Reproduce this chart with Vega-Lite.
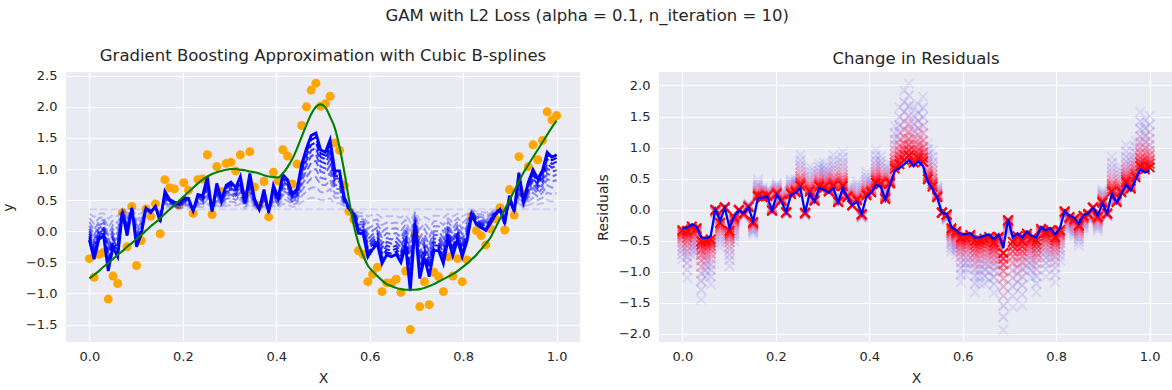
{
"$schema":"https://vega.github.io/schema/vega-lite/v6.json",
"background":"white",
"padding":{"left":1,"right":0,"top":7,"bottom":0},
"title":{"text":"GAM with L2 Loss (alpha = 0.1, n_iteration = 10)","fontSize":16.5,"font":"DejaVu Sans","fontWeight":"normal","color":"#262626","anchor":"middle","offset":24},
"config":{
"font":"DejaVu Sans",
"view":{"fill":"#EAEAF2","stroke":null},
"axis":{"grid":true,"gridColor":"white","gridWidth":1.1,"domain":false,"ticks":false,"tickSize":0,"labelFont":"DejaVu Sans","titleFont":"DejaVu Sans","labelFontSize":13,"labelColor":"#262626","titleFontSize":14,"titleColor":"#262626","titleFontWeight":"normal"},
"axisX":{"labelPadding":8,"titlePadding":8},
"axisY":{"labelPadding":9},
"title":{"font":"DejaVu Sans","fontSize":16.5,"fontWeight":"normal","color":"#262626","offset":5},
"concat":{"spacing":16}
},
"datasets":{"d":[
{"x":0,"y":-0.44,"g":-0.76,"p0":0.355,"p1":0.28,"p2":0.21,"p3":0.15,"p4":0.09,"p5":0.04,"p6":0,"p7":-0.04,"p8":-0.08,"p9":-0.11,"p10":-0.14,"r0":-0.8,"r1":-0.72,"r2":-0.65,"r3":-0.59,"r4":-0.53,"r5":-0.48,"r6":-0.44,"r7":-0.4,"r8":-0.36,"r9":-0.33,"r10":-0.3},
{"x":0.0101,"y":-0.74,"g":-0.7,"p0":0.355,"p1":0.23,"p2":0.12,"p3":0.02,"p4":-0.07,"p5":-0.15,"p6":-0.22,"p7":-0.29,"p8":-0.35,"p9":-0.4,"p10":-0.45,"r0":-1.1,"r1":-0.97,"r2":-0.86,"r3":-0.76,"r4":-0.67,"r5":-0.59,"r6":-0.52,"r7":-0.45,"r8":-0.39,"r9":-0.34,"r10":-0.29},
{"x":0.0202,"y":-0.37,"g":-0.64,"p0":0.355,"p1":0.28,"p2":0.21,"p3":0.15,"p4":0.1,"p5":0.05,"p6":0.01,"p7":-0.03,"p8":-0.07,"p9":-0.1,"p10":-0.13,"r0":-0.73,"r1":-0.65,"r2":-0.58,"r3":-0.52,"r4":-0.47,"r5":-0.42,"r6":-0.38,"r7":-0.34,"r8":-0.3,"r9":-0.27,"r10":-0.24},
{"x":0.0303,"y":-0.34,"g":-0.57,"p0":0.355,"p1":0.29,"p2":0.23,"p3":0.18,"p4":0.13,"p5":0.09,"p6":0.05,"p7":0.02,"p8":-0.02,"p9":-0.04,"p10":-0.07,"r0":-0.7,"r1":-0.63,"r2":-0.57,"r3":-0.52,"r4":-0.47,"r5":-0.43,"r6":-0.39,"r7":-0.36,"r8":-0.32,"r9":-0.3,"r10":-0.27},
{"x":0.0404,"y":-1.09,"g":-0.51,"p0":0.355,"p1":0.2,"p2":0.06,"p3":-0.06,"p4":-0.17,"p5":-0.27,"p6":-0.36,"p7":-0.44,"p8":-0.52,"p9":-0.58,"p10":-0.64,"r0":-1.45,"r1":-1.29,"r2":-1.15,"r3":-1.03,"r4":-0.92,"r5":-0.82,"r6":-0.73,"r7":-0.65,"r8":-0.57,"r9":-0.51,"r10":-0.45},
{"x":0.0505,"y":-0.72,"g":-0.45,"p0":0.355,"p1":0.26,"p2":0.18,"p3":0.1,"p4":0.03,"p5":-0.03,"p6":-0.09,"p7":-0.14,"p8":-0.18,"p9":-0.22,"p10":-0.26,"r0":-1.08,"r1":-0.98,"r2":-0.9,"r3":-0.82,"r4":-0.75,"r5":-0.69,"r6":-0.63,"r7":-0.58,"r8":-0.54,"r9":-0.5,"r10":-0.46},
{"x":0.0606,"y":-0.84,"g":-0.38,"p0":0.355,"p1":0.24,"p2":0.13,"p3":0.04,"p4":-0.05,"p5":-0.13,"p6":-0.2,"p7":-0.26,"p8":-0.31,"p9":-0.36,"p10":-0.41,"r0":-1.2,"r1":-1.08,"r2":-0.97,"r3":-0.88,"r4":-0.79,"r5":-0.71,"r6":-0.64,"r7":-0.58,"r8":-0.53,"r9":-0.48,"r10":-0.43},
{"x":0.0707,"y":0.3,"g":-0.32,"p0":0.355,"p1":0.35,"p2":0.34,"p3":0.33,"p4":0.33,"p5":0.32,"p6":0.32,"p7":0.31,"p8":0.31,"p9":0.3,"p10":0.3,"r0":-0.06,"r1":-0.05,"r2":-0.04,"r3":-0.03,"r4":-0.03,"r5":-0.02,"r6":-0.02,"r7":-0.01,"r8":-0.01,"r9":0,"r10":0},
{"x":0.0808,"y":-0.25,"g":-0.25,"p0":0.355,"p1":0.29,"p2":0.23,"p3":0.18,"p4":0.13,"p5":0.09,"p6":0.05,"p7":0.02,"p8":-0.02,"p9":-0.04,"p10":-0.07,"r0":-0.61,"r1":-0.54,"r2":-0.48,"r3":-0.43,"r4":-0.38,"r5":-0.34,"r6":-0.3,"r7":-0.27,"r8":-0.23,"r9":-0.21,"r10":-0.18},
{"x":0.0909,"y":0.4,"g":-0.19,"p0":0.355,"p1":0.36,"p2":0.36,"p3":0.36,"p4":0.36,"p5":0.36,"p6":0.37,"p7":0.37,"p8":0.37,"p9":0.37,"p10":0.37,"r0":0.05,"r1":0.04,"r2":0.04,"r3":0.04,"r4":0.04,"r5":0.04,"r6":0.03,"r7":0.03,"r8":0.03,"r9":0.03,"r10":0.03},
{"x":0.101,"y":-0.55,"g":-0.12,"p0":0.355,"p1":0.26,"p2":0.18,"p3":0.1,"p4":0.04,"p5":-0.03,"p6":-0.08,"p7":-0.13,"p8":-0.17,"p9":-0.21,"p10":-0.25,"r0":-0.91,"r1":-0.81,"r2":-0.73,"r3":-0.65,"r4":-0.59,"r5":-0.52,"r6":-0.47,"r7":-0.42,"r8":-0.38,"r9":-0.34,"r10":-0.3},
{"x":0.1111,"y":-0.15,"g":-0.06,"p0":0.355,"p1":0.29,"p2":0.24,"p3":0.19,"p4":0.14,"p5":0.1,"p6":0.06,"p7":0.03,"p8":0,"p9":-0.03,"p10":-0.05,"r0":-0.51,"r1":-0.44,"r2":-0.39,"r3":-0.34,"r4":-0.29,"r5":-0.25,"r6":-0.21,"r7":-0.18,"r8":-0.15,"r9":-0.12,"r10":-0.1},
{"x":0.1212,"y":0.36,"g":0.01,"p0":0.355,"p1":0.36,"p2":0.36,"p3":0.36,"p4":0.36,"p5":0.36,"p6":0.37,"p7":0.37,"p8":0.37,"p9":0.37,"p10":0.37,"r0":0.01,"r1":0,"r2":0,"r3":0,"r4":0,"r5":0,"r6":-0.01,"r7":-0.01,"r8":-0.01,"r9":-0.01,"r10":-0.01},
{"x":0.1313,"y":0.24,"g":0.08,"p0":0.355,"p1":0.35,"p2":0.34,"p3":0.33,"p4":0.33,"p5":0.32,"p6":0.32,"p7":0.31,"p8":0.31,"p9":0.3,"p10":0.3,"r0":-0.12,"r1":-0.11,"r2":-0.1,"r3":-0.09,"r4":-0.09,"r5":-0.08,"r6":-0.08,"r7":-0.07,"r8":-0.07,"r9":-0.06,"r10":-0.06},
{"x":0.1414,"y":0.44,"g":0.14,"p0":0.355,"p1":0.36,"p2":0.37,"p3":0.37,"p4":0.38,"p5":0.38,"p6":0.39,"p7":0.39,"p8":0.39,"p9":0.4,"p10":0.4,"r0":0.09,"r1":0.08,"r2":0.07,"r3":0.07,"r4":0.06,"r5":0.06,"r6":0.05,"r7":0.05,"r8":0.05,"r9":0.04,"r10":0.04},
{"x":0.1515,"y":-0.04,"g":0.21,"p0":0.355,"p1":0.32,"p2":0.3,"p3":0.27,"p4":0.25,"p5":0.23,"p6":0.21,"p7":0.19,"p8":0.18,"p9":0.16,"p10":0.15,"r0":-0.4,"r1":-0.36,"r2":-0.34,"r3":-0.31,"r4":-0.29,"r5":-0.27,"r6":-0.25,"r7":-0.23,"r8":-0.22,"r9":-0.2,"r10":-0.19},
{"x":0.1616,"y":0.83,"g":0.28,"p0":0.355,"p1":0.4,"p2":0.44,"p3":0.47,"p4":0.51,"p5":0.53,"p6":0.56,"p7":0.58,"p8":0.6,"p9":0.62,"p10":0.64,"r0":0.48,"r1":0.43,"r2":0.39,"r3":0.36,"r4":0.32,"r5":0.3,"r6":0.27,"r7":0.25,"r8":0.23,"r9":0.21,"r10":0.19},
{"x":0.1717,"y":0.7,"g":0.35,"p0":0.355,"p1":0.38,"p2":0.4,"p3":0.42,"p4":0.44,"p5":0.45,"p6":0.47,"p7":0.48,"p8":0.49,"p9":0.5,"p10":0.51,"r0":0.35,"r1":0.32,"r2":0.3,"r3":0.28,"r4":0.26,"r5":0.25,"r6":0.23,"r7":0.22,"r8":0.21,"r9":0.2,"r10":0.19},
{"x":0.1818,"y":0.68,"g":0.42,"p0":0.355,"p1":0.37,"p2":0.39,"p3":0.4,"p4":0.42,"p5":0.43,"p6":0.44,"p7":0.45,"p8":0.46,"p9":0.46,"p10":0.47,"r0":0.33,"r1":0.31,"r2":0.29,"r3":0.28,"r4":0.26,"r5":0.25,"r6":0.24,"r7":0.23,"r8":0.22,"r9":0.22,"r10":0.21},
{"x":0.1919,"y":0.42,"g":0.49,"p0":0.355,"p1":0.37,"p2":0.38,"p3":0.39,"p4":0.4,"p5":0.41,"p6":0.42,"p7":0.42,"p8":0.43,"p9":0.44,"p10":0.44,"r0":0.07,"r1":0.05,"r2":0.04,"r3":0.03,"r4":0.02,"r5":0.01,"r6":0,"r7":0,"r8":-0.01,"r9":-0.02,"r10":-0.02},
{"x":0.202,"y":0.78,"g":0.56,"p0":0.355,"p1":0.38,"p2":0.41,"p3":0.43,"p4":0.45,"p5":0.47,"p6":0.49,"p7":0.5,"p8":0.52,"p9":0.53,"p10":0.54,"r0":0.43,"r1":0.4,"r2":0.37,"r3":0.35,"r4":0.33,"r5":0.31,"r6":0.29,"r7":0.28,"r8":0.26,"r9":0.25,"r10":0.24},
{"x":0.2121,"y":0.66,"g":0.63,"p0":0.355,"p1":0.38,"p2":0.41,"p3":0.43,"p4":0.45,"p5":0.47,"p6":0.48,"p7":0.5,"p8":0.51,"p9":0.52,"p10":0.53,"r0":0.31,"r1":0.28,"r2":0.25,"r3":0.23,"r4":0.21,"r5":0.19,"r6":0.18,"r7":0.16,"r8":0.15,"r9":0.14,"r10":0.13},
{"x":0.2222,"y":0.29,"g":0.7,"p0":0.355,"p1":0.35,"p2":0.35,"p3":0.35,"p4":0.34,"p5":0.34,"p6":0.34,"p7":0.34,"p8":0.33,"p9":0.33,"p10":0.33,"r0":-0.07,"r1":-0.06,"r2":-0.06,"r3":-0.06,"r4":-0.05,"r5":-0.05,"r6":-0.05,"r7":-0.05,"r8":-0.04,"r9":-0.04,"r10":-0.04},
{"x":0.2323,"y":0.83,"g":0.77,"p0":0.355,"p1":0.39,"p2":0.42,"p3":0.45,"p4":0.48,"p5":0.5,"p6":0.52,"p7":0.54,"p8":0.56,"p9":0.58,"p10":0.59,"r0":0.48,"r1":0.44,"r2":0.41,"r3":0.38,"r4":0.35,"r5":0.33,"r6":0.31,"r7":0.29,"r8":0.27,"r9":0.25,"r10":0.24},
{"x":0.2424,"y":0.84,"g":0.83,"p0":0.355,"p1":0.39,"p2":0.42,"p3":0.44,"p4":0.47,"p5":0.49,"p6":0.51,"p7":0.53,"p8":0.54,"p9":0.56,"p10":0.57,"r0":0.49,"r1":0.45,"r2":0.42,"r3":0.4,"r4":0.37,"r5":0.35,"r6":0.33,"r7":0.31,"r8":0.3,"r9":0.28,"r10":0.27},
{"x":0.2525,"y":1.23,"g":0.88,"p0":0.355,"p1":0.44,"p2":0.51,"p3":0.57,"p4":0.63,"p5":0.69,"p6":0.73,"p7":0.78,"p8":0.81,"p9":0.85,"p10":0.88,"r0":0.88,"r1":0.79,"r2":0.72,"r3":0.66,"r4":0.6,"r5":0.54,"r6":0.5,"r7":0.45,"r8":0.42,"r9":0.38,"r10":0.35},
{"x":0.2626,"y":0.27,"g":0.92,"p0":0.355,"p1":0.35,"p2":0.35,"p3":0.34,"p4":0.34,"p5":0.33,"p6":0.33,"p7":0.33,"p8":0.32,"p9":0.32,"p10":0.32,"r0":-0.09,"r1":-0.08,"r2":-0.08,"r3":-0.07,"r4":-0.07,"r5":-0.06,"r6":-0.06,"r7":-0.06,"r8":-0.05,"r9":-0.05,"r10":-0.05},
{"x":0.2727,"y":1.04,"g":0.95,"p0":0.355,"p1":0.42,"p2":0.48,"p3":0.53,"p4":0.57,"p5":0.62,"p6":0.65,"p7":0.69,"p8":0.72,"p9":0.75,"p10":0.77,"r0":0.69,"r1":0.62,"r2":0.56,"r3":0.51,"r4":0.47,"r5":0.42,"r6":0.39,"r7":0.35,"r8":0.32,"r9":0.29,"r10":0.27},
{"x":0.2828,"y":0.64,"g":0.97,"p0":0.355,"p1":0.38,"p2":0.4,"p3":0.42,"p4":0.44,"p5":0.45,"p6":0.47,"p7":0.48,"p8":0.49,"p9":0.5,"p10":0.51,"r0":0.29,"r1":0.26,"r2":0.24,"r3":0.22,"r4":0.2,"r5":0.19,"r6":0.17,"r7":0.16,"r8":0.15,"r9":0.14,"r10":0.13},
{"x":0.2929,"y":1.09,"g":0.99,"p0":0.355,"p1":0.41,"p2":0.47,"p3":0.52,"p4":0.56,"p5":0.6,"p6":0.63,"p7":0.66,"p8":0.69,"p9":0.72,"p10":0.74,"r0":0.74,"r1":0.68,"r2":0.62,"r3":0.57,"r4":0.53,"r5":0.49,"r6":0.46,"r7":0.43,"r8":0.4,"r9":0.37,"r10":0.35},
{"x":0.303,"y":1.11,"g":1,"p0":0.355,"p1":0.42,"p2":0.48,"p3":0.54,"p4":0.59,"p5":0.63,"p6":0.67,"p7":0.7,"p8":0.74,"p9":0.76,"p10":0.79,"r0":0.76,"r1":0.69,"r2":0.63,"r3":0.57,"r4":0.52,"r5":0.48,"r6":0.44,"r7":0.41,"r8":0.37,"r9":0.35,"r10":0.32},
{"x":0.3131,"y":0.97,"g":1,"p0":0.355,"p1":0.41,"p2":0.46,"p3":0.5,"p4":0.54,"p5":0.57,"p6":0.6,"p7":0.63,"p8":0.66,"p9":0.68,"p10":0.7,"r0":0.62,"r1":0.56,"r2":0.51,"r3":0.47,"r4":0.43,"r5":0.4,"r6":0.37,"r7":0.34,"r8":0.31,"r9":0.29,"r10":0.27},
{"x":0.3232,"y":1.23,"g":0.99,"p0":0.355,"p1":0.44,"p2":0.51,"p3":0.57,"p4":0.63,"p5":0.69,"p6":0.73,"p7":0.78,"p8":0.81,"p9":0.85,"p10":0.88,"r0":0.88,"r1":0.79,"r2":0.72,"r3":0.66,"r4":0.6,"r5":0.54,"r6":0.5,"r7":0.45,"r8":0.42,"r9":0.38,"r10":0.35},
{"x":0.3333,"y":0.59,"g":0.98,"p0":0.355,"p1":0.37,"p2":0.39,"p3":0.41,"p4":0.42,"p5":0.43,"p6":0.45,"p7":0.46,"p8":0.46,"p9":0.47,"p10":0.48,"r0":0.24,"r1":0.22,"r2":0.2,"r3":0.18,"r4":0.17,"r5":0.16,"r6":0.14,"r7":0.13,"r8":0.13,"r9":0.12,"r10":0.11},
{"x":0.3434,"y":1.28,"g":0.96,"p0":0.355,"p1":0.44,"p2":0.52,"p3":0.59,"p4":0.66,"p5":0.72,"p6":0.77,"p7":0.82,"p8":0.86,"p9":0.9,"p10":0.93,"r0":0.93,"r1":0.84,"r2":0.76,"r3":0.69,"r4":0.62,"r5":0.56,"r6":0.51,"r7":0.46,"r8":0.42,"r9":0.38,"r10":0.35},
{"x":0.3535,"y":0.71,"g":0.95,"p0":0.355,"p1":0.38,"p2":0.4,"p3":0.42,"p4":0.44,"p5":0.46,"p6":0.47,"p7":0.49,"p8":0.5,"p9":0.51,"p10":0.52,"r0":0.36,"r1":0.33,"r2":0.31,"r3":0.29,"r4":0.27,"r5":0.25,"r6":0.24,"r7":0.22,"r8":0.21,"r9":0.2,"r10":0.19},
{"x":0.3636,"y":0.42,"g":0.93,"p0":0.355,"p1":0.35,"p2":0.35,"p3":0.35,"p4":0.35,"p5":0.35,"p6":0.35,"p7":0.35,"p8":0.35,"p9":0.35,"p10":0.35,"r0":0.07,"r1":0.07,"r2":0.07,"r3":0.07,"r4":0.07,"r5":0.07,"r6":0.07,"r7":0.07,"r8":0.07,"r9":0.07,"r10":0.07},
{"x":0.3737,"y":0.8,"g":0.9,"p0":0.355,"p1":0.4,"p2":0.45,"p3":0.49,"p4":0.52,"p5":0.55,"p6":0.58,"p7":0.61,"p8":0.63,"p9":0.65,"p10":0.67,"r0":0.45,"r1":0.4,"r2":0.35,"r3":0.31,"r4":0.28,"r5":0.25,"r6":0.22,"r7":0.19,"r8":0.17,"r9":0.15,"r10":0.13},
{"x":0.3838,"y":0.23,"g":0.88,"p0":0.355,"p1":0.35,"p2":0.34,"p3":0.33,"p4":0.33,"p5":0.32,"p6":0.32,"p7":0.31,"p8":0.31,"p9":0.3,"p10":0.3,"r0":-0.13,"r1":-0.12,"r2":-0.11,"r3":-0.1,"r4":-0.1,"r5":-0.09,"r6":-0.09,"r7":-0.08,"r8":-0.08,"r9":-0.07,"r10":-0.07},
{"x":0.3939,"y":0.95,"g":0.87,"p0":0.355,"p1":0.41,"p2":0.47,"p3":0.52,"p4":0.56,"p5":0.6,"p6":0.63,"p7":0.66,"p8":0.69,"p9":0.72,"p10":0.74,"r0":0.6,"r1":0.54,"r2":0.48,"r3":0.43,"r4":0.39,"r5":0.35,"r6":0.32,"r7":0.29,"r8":0.26,"r9":0.23,"r10":0.21},
{"x":0.404,"y":0.81,"g":0.865,"p0":0.355,"p1":0.38,"p2":0.41,"p3":0.43,"p4":0.45,"p5":0.47,"p6":0.49,"p7":0.5,"p8":0.52,"p9":0.53,"p10":0.54,"r0":0.46,"r1":0.43,"r2":0.4,"r3":0.38,"r4":0.36,"r5":0.34,"r6":0.32,"r7":0.31,"r8":0.29,"r9":0.28,"r10":0.27},
{"x":0.4141,"y":1.31,"g":0.93,"p0":0.355,"p1":0.44,"p2":0.52,"p3":0.59,"p4":0.65,"p5":0.7,"p6":0.75,"p7":0.8,"p8":0.84,"p9":0.88,"p10":0.91,"r0":0.96,"r1":0.87,"r2":0.79,"r3":0.72,"r4":0.66,"r5":0.61,"r6":0.56,"r7":0.51,"r8":0.47,"r9":0.43,"r10":0.4},
{"x":0.4242,"y":1.21,"g":1.03,"p0":0.355,"p1":0.43,"p2":0.49,"p3":0.55,"p4":0.61,"p5":0.65,"p6":0.7,"p7":0.74,"p8":0.77,"p9":0.8,"p10":0.83,"r0":0.86,"r1":0.78,"r2":0.72,"r3":0.66,"r4":0.6,"r5":0.56,"r6":0.51,"r7":0.47,"r8":0.44,"r9":0.41,"r10":0.38},
{"x":0.4343,"y":0.76,"g":1.16,"p0":0.355,"p1":0.39,"p2":0.43,"p3":0.46,"p4":0.48,"p5":0.51,"p6":0.53,"p7":0.55,"p8":0.57,"p9":0.59,"p10":0.6,"r0":0.41,"r1":0.37,"r2":0.33,"r3":0.3,"r4":0.28,"r5":0.25,"r6":0.23,"r7":0.21,"r8":0.19,"r9":0.17,"r10":0.16},
{"x":0.4444,"y":1.08,"g":1.33,"p0":0.355,"p1":0.41,"p2":0.45,"p3":0.49,"p4":0.53,"p5":0.56,"p6":0.59,"p7":0.62,"p8":0.64,"p9":0.66,"p10":0.68,"r0":0.73,"r1":0.67,"r2":0.63,"r3":0.59,"r4":0.55,"r5":0.52,"r6":0.49,"r7":0.46,"r8":0.44,"r9":0.42,"r10":0.4},
{"x":0.4545,"y":1.7,"g":1.52,"p0":0.355,"p1":0.47,"p2":0.57,"p3":0.66,"p4":0.74,"p5":0.81,"p6":0.88,"p7":0.94,"p8":0.99,"p9":1.04,"p10":1.08,"r0":1.35,"r1":1.23,"r2":1.13,"r3":1.04,"r4":0.96,"r5":0.89,"r6":0.82,"r7":0.76,"r8":0.71,"r9":0.66,"r10":0.62},
{"x":0.4646,"y":2,"g":1.71,"p0":0.355,"p1":0.51,"p2":0.64,"p3":0.76,"p4":0.87,"p5":0.97,"p6":1.06,"p7":1.14,"p8":1.21,"p9":1.27,"p10":1.33,"r0":1.65,"r1":1.49,"r2":1.36,"r3":1.24,"r4":1.13,"r5":1.03,"r6":0.94,"r7":0.86,"r8":0.79,"r9":0.73,"r10":0.67},
{"x":0.4747,"y":2.27,"g":1.88,"p0":0.355,"p1":0.54,"p2":0.7,"p3":0.85,"p4":0.98,"p5":1.1,"p6":1.21,"p7":1.3,"p8":1.39,"p9":1.47,"p10":1.54,"r0":1.92,"r1":1.73,"r2":1.57,"r3":1.42,"r4":1.29,"r5":1.17,"r6":1.06,"r7":0.97,"r8":0.88,"r9":0.8,"r10":0.73},
{"x":0.4848,"y":2.38,"g":2,"p0":0.355,"p1":0.54,"p2":0.71,"p3":0.87,"p4":1,"p5":1.13,"p6":1.24,"p7":1.34,"p8":1.43,"p9":1.51,"p10":1.58,"r0":2.03,"r1":1.84,"r2":1.67,"r3":1.51,"r4":1.38,"r5":1.25,"r6":1.14,"r7":1.04,"r8":0.95,"r9":0.87,"r10":0.8},
{"x":0.4949,"y":2.01,"g":2.04,"p0":0.355,"p1":0.5,"p2":0.63,"p3":0.75,"p4":0.86,"p5":0.96,"p6":1.04,"p7":1.12,"p8":1.19,"p9":1.25,"p10":1.31,"r0":1.66,"r1":1.51,"r2":1.38,"r3":1.26,"r4":1.15,"r5":1.05,"r6":0.97,"r7":0.89,"r8":0.82,"r9":0.76,"r10":0.7},
{"x":0.5051,"y":2.05,"g":1.99,"p0":0.355,"p1":0.5,"p2":0.62,"p3":0.74,"p4":0.84,"p5":0.93,"p6":1.01,"p7":1.09,"p8":1.16,"p9":1.22,"p10":1.27,"r0":1.7,"r1":1.55,"r2":1.43,"r3":1.31,"r4":1.21,"r5":1.12,"r6":1.04,"r7":0.96,"r8":0.89,"r9":0.83,"r10":0.78},
{"x":0.5152,"y":2.17,"g":1.84,"p0":0.355,"p1":0.53,"p2":0.68,"p3":0.82,"p4":0.94,"p5":1.06,"p6":1.16,"p7":1.25,"p8":1.33,"p9":1.4,"p10":1.47,"r0":1.82,"r1":1.64,"r2":1.49,"r3":1.35,"r4":1.23,"r5":1.11,"r6":1.01,"r7":0.92,"r8":0.84,"r9":0.77,"r10":0.7},
{"x":0.5253,"y":1.42,"g":1.66,"p0":0.355,"p1":0.45,"p2":0.54,"p3":0.61,"p4":0.68,"p5":0.74,"p6":0.8,"p7":0.85,"p8":0.89,"p9":0.93,"p10":0.97,"r0":1.07,"r1":0.97,"r2":0.88,"r3":0.81,"r4":0.74,"r5":0.68,"r6":0.62,"r7":0.57,"r8":0.53,"r9":0.49,"r10":0.45},
{"x":0.5354,"y":1.3,"g":1.35,"p0":0.355,"p1":0.45,"p2":0.54,"p3":0.61,"p4":0.68,"p5":0.74,"p6":0.8,"p7":0.85,"p8":0.89,"p9":0.93,"p10":0.97,"r0":0.95,"r1":0.85,"r2":0.76,"r3":0.69,"r4":0.62,"r5":0.56,"r6":0.5,"r7":0.45,"r8":0.41,"r9":0.37,"r10":0.33},
{"x":0.5455,"y":0.74,"g":0.96,"p0":0.355,"p1":0.39,"p2":0.41,"p3":0.44,"p4":0.46,"p5":0.48,"p6":0.5,"p7":0.51,"p8":0.53,"p9":0.54,"p10":0.55,"r0":0.39,"r1":0.35,"r2":0.33,"r3":0.3,"r4":0.28,"r5":0.26,"r6":0.24,"r7":0.23,"r8":0.21,"r9":0.2,"r10":0.19},
{"x":0.5556,"y":0.32,"g":0.51,"p0":0.355,"p1":0.36,"p2":0.36,"p3":0.36,"p4":0.36,"p5":0.36,"p6":0.37,"p7":0.37,"p8":0.37,"p9":0.37,"p10":0.37,"r0":-0.04,"r1":-0.04,"r2":-0.04,"r3":-0.04,"r4":-0.04,"r5":-0.04,"r6":-0.05,"r7":-0.05,"r8":-0.05,"r9":-0.05,"r10":-0.05},
{"x":0.5657,"y":0.19,"g":0.1,"p0":0.355,"p1":0.34,"p2":0.33,"p3":0.32,"p4":0.31,"p5":0.3,"p6":0.29,"p7":0.28,"p8":0.27,"p9":0.27,"p10":0.26,"r0":-0.17,"r1":-0.15,"r2":-0.14,"r3":-0.13,"r4":-0.12,"r5":-0.11,"r6":-0.1,"r7":-0.09,"r8":-0.08,"r9":-0.08,"r10":-0.07},
{"x":0.5758,"y":-0.31,"g":-0.19,"p0":0.355,"p1":0.3,"p2":0.24,"p3":0.2,"p4":0.15,"p5":0.11,"p6":0.08,"p7":0.05,"p8":0.02,"p9":-0.01,"p10":-0.03,"r0":-0.67,"r1":-0.61,"r2":-0.55,"r3":-0.51,"r4":-0.46,"r5":-0.42,"r6":-0.39,"r7":-0.36,"r8":-0.33,"r9":-0.3,"r10":-0.28},
{"x":0.5859,"y":-0.37,"g":-0.39,"p0":0.355,"p1":0.29,"p2":0.24,"p3":0.19,"p4":0.15,"p5":0.11,"p6":0.07,"p7":0.04,"p8":0.01,"p9":-0.02,"p10":-0.04,"r0":-0.73,"r1":-0.66,"r2":-0.61,"r3":-0.56,"r4":-0.52,"r5":-0.48,"r6":-0.44,"r7":-0.41,"r8":-0.38,"r9":-0.35,"r10":-0.33},
{"x":0.596,"y":-0.81,"g":-0.55,"p0":0.355,"p1":0.24,"p2":0.13,"p3":0.04,"p4":-0.05,"p5":-0.13,"p6":-0.2,"p7":-0.26,"p8":-0.31,"p9":-0.36,"p10":-0.41,"r0":-1.17,"r1":-1.05,"r2":-0.94,"r3":-0.85,"r4":-0.76,"r5":-0.68,"r6":-0.61,"r7":-0.55,"r8":-0.5,"r9":-0.45,"r10":-0.4},
{"x":0.6061,"y":-0.69,"g":-0.64,"p0":0.355,"p1":0.26,"p2":0.17,"p3":0.09,"p4":0.01,"p5":-0.05,"p6":-0.11,"p7":-0.16,"p8":-0.21,"p9":-0.25,"p10":-0.29,"r0":-1.05,"r1":-0.95,"r2":-0.86,"r3":-0.78,"r4":-0.7,"r5":-0.64,"r6":-0.58,"r7":-0.53,"r8":-0.48,"r9":-0.44,"r10":-0.4},
{"x":0.6162,"y":-0.58,"g":-0.72,"p0":0.355,"p1":0.27,"p2":0.19,"p3":0.12,"p4":0.06,"p5":0.01,"p6":-0.04,"p7":-0.09,"p8":-0.13,"p9":-0.17,"p10":-0.2,"r0":-0.94,"r1":-0.85,"r2":-0.77,"r3":-0.7,"r4":-0.64,"r5":-0.59,"r6":-0.54,"r7":-0.49,"r8":-0.45,"r9":-0.41,"r10":-0.38},
{"x":0.6263,"y":-0.97,"g":-0.79,"p0":0.355,"p1":0.22,"p2":0.1,"p3":-0.01,"p4":-0.11,"p5":-0.2,"p6":-0.27,"p7":-0.35,"p8":-0.41,"p9":-0.47,"p10":-0.52,"r0":-1.33,"r1":-1.19,"r2":-1.07,"r3":-0.96,"r4":-0.86,"r5":-0.77,"r6":-0.7,"r7":-0.62,"r8":-0.56,"r9":-0.5,"r10":-0.45},
{"x":0.6364,"y":-0.83,"g":-0.85,"p0":0.355,"p1":0.24,"p2":0.14,"p3":0.05,"p4":-0.03,"p5":-0.11,"p6":-0.17,"p7":-0.23,"p8":-0.29,"p9":-0.34,"p10":-0.38,"r0":-1.19,"r1":-1.07,"r2":-0.97,"r3":-0.88,"r4":-0.8,"r5":-0.72,"r6":-0.66,"r7":-0.6,"r8":-0.54,"r9":-0.49,"r10":-0.45},
{"x":0.6465,"y":-0.83,"g":-0.88,"p0":0.355,"p1":0.24,"p2":0.13,"p3":0.04,"p4":-0.05,"p5":-0.13,"p6":-0.2,"p7":-0.26,"p8":-0.31,"p9":-0.36,"p10":-0.41,"r0":-1.19,"r1":-1.07,"r2":-0.96,"r3":-0.87,"r4":-0.78,"r5":-0.7,"r6":-0.63,"r7":-0.57,"r8":-0.52,"r9":-0.47,"r10":-0.42},
{"x":0.6566,"y":-0.77,"g":-0.91,"p0":0.355,"p1":0.24,"p2":0.14,"p3":0.05,"p4":-0.03,"p5":-0.1,"p6":-0.17,"p7":-0.23,"p8":-0.28,"p9":-0.33,"p10":-0.37,"r0":-1.13,"r1":-1.01,"r2":-0.91,"r3":-0.82,"r4":-0.74,"r5":-0.67,"r6":-0.6,"r7":-0.54,"r8":-0.49,"r9":-0.44,"r10":-0.4},
{"x":0.6667,"y":-0.98,"g":-0.93,"p0":0.355,"p1":0.22,"p2":0.11,"p3":0,"p4":-0.1,"p5":-0.18,"p6":-0.26,"p7":-0.33,"p8":-0.39,"p9":-0.45,"p10":-0.5,"r0":-1.34,"r1":-1.2,"r2":-1.09,"r3":-0.98,"r4":-0.88,"r5":-0.8,"r6":-0.72,"r7":-0.65,"r8":-0.59,"r9":-0.53,"r10":-0.48},
{"x":0.6768,"y":-0.64,"g":-0.94,"p0":0.355,"p1":0.26,"p2":0.18,"p3":0.11,"p4":0.04,"p5":-0.02,"p6":-0.07,"p7":-0.12,"p8":-0.17,"p9":-0.2,"p10":-0.24,"r0":-1,"r1":-0.9,"r2":-0.82,"r3":-0.75,"r4":-0.68,"r5":-0.62,"r6":-0.57,"r7":-0.52,"r8":-0.47,"r9":-0.44,"r10":-0.4},
{"x":0.6869,"y":-1.58,"g":-0.94,"p0":0.355,"p1":0.15,"p2":-0.03,"p3":-0.19,"p4":-0.34,"p5":-0.47,"p6":-0.59,"p7":-0.7,"p8":-0.79,"p9":-0.88,"p10":-0.96,"r0":-1.94,"r1":-1.73,"r2":-1.55,"r3":-1.39,"r4":-1.24,"r5":-1.11,"r6":-0.99,"r7":-0.88,"r8":-0.79,"r9":-0.7,"r10":-0.62},
{"x":0.697,"y":-0.06,"g":-0.94,"p0":0.355,"p1":0.31,"p2":0.28,"p3":0.25,"p4":0.22,"p5":0.19,"p6":0.16,"p7":0.14,"p8":0.12,"p9":0.11,"p10":0.09,"r0":-0.42,"r1":-0.37,"r2":-0.34,"r3":-0.31,"r4":-0.28,"r5":-0.25,"r6":-0.22,"r7":-0.2,"r8":-0.18,"r9":-0.17,"r10":-0.15},
{"x":0.7071,"y":-1.21,"g":-0.93,"p0":0.355,"p1":0.18,"p2":0.03,"p3":-0.11,"p4":-0.23,"p5":-0.35,"p6":-0.45,"p7":-0.54,"p8":-0.62,"p9":-0.69,"p10":-0.76,"r0":-1.57,"r1":-1.39,"r2":-1.24,"r3":-1.1,"r4":-0.98,"r5":-0.86,"r6":-0.76,"r7":-0.67,"r8":-0.59,"r9":-0.52,"r10":-0.45},
{"x":0.7172,"y":-0.81,"g":-0.91,"p0":0.355,"p1":0.23,"p2":0.13,"p3":0.03,"p4":-0.06,"p5":-0.14,"p6":-0.21,"p7":-0.27,"p8":-0.33,"p9":-0.38,"p10":-0.43,"r0":-1.17,"r1":-1.04,"r2":-0.94,"r3":-0.84,"r4":-0.75,"r5":-0.67,"r6":-0.6,"r7":-0.54,"r8":-0.48,"r9":-0.43,"r10":-0.38},
{"x":0.7273,"y":-1.18,"g":-0.88,"p0":0.355,"p1":0.19,"p2":0.04,"p3":-0.1,"p4":-0.22,"p5":-0.33,"p6":-0.43,"p7":-0.51,"p8":-0.59,"p9":-0.67,"p10":-0.73,"r0":-1.54,"r1":-1.37,"r2":-1.22,"r3":-1.08,"r4":-0.96,"r5":-0.85,"r6":-0.75,"r7":-0.67,"r8":-0.59,"r9":-0.51,"r10":-0.45},
{"x":0.7374,"y":-0.66,"g":-0.85,"p0":0.355,"p1":0.25,"p2":0.16,"p3":0.08,"p4":0,"p5":-0.06,"p6":-0.12,"p7":-0.18,"p8":-0.23,"p9":-0.27,"p10":-0.31,"r0":-1.02,"r1":-0.91,"r2":-0.82,"r3":-0.74,"r4":-0.66,"r5":-0.6,"r6":-0.54,"r7":-0.48,"r8":-0.43,"r9":-0.39,"r10":-0.35},
{"x":0.7475,"y":-0.73,"g":-0.81,"p0":0.355,"p1":0.25,"p2":0.16,"p3":0.08,"p4":0,"p5":-0.06,"p6":-0.12,"p7":-0.18,"p8":-0.23,"p9":-0.27,"p10":-0.31,"r0":-1.09,"r1":-0.98,"r2":-0.89,"r3":-0.81,"r4":-0.73,"r5":-0.67,"r6":-0.61,"r7":-0.55,"r8":-0.5,"r9":-0.46,"r10":-0.42},
{"x":0.7576,"y":-0.97,"g":-0.77,"p0":0.355,"p1":0.22,"p2":0.1,"p3":-0.01,"p4":-0.11,"p5":-0.2,"p6":-0.27,"p7":-0.35,"p8":-0.41,"p9":-0.47,"p10":-0.52,"r0":-1.33,"r1":-1.19,"r2":-1.07,"r3":-0.96,"r4":-0.86,"r5":-0.77,"r6":-0.7,"r7":-0.62,"r8":-0.56,"r9":-0.5,"r10":-0.45},
{"x":0.7677,"y":-0.41,"g":-0.73,"p0":0.355,"p1":0.28,"p2":0.21,"p3":0.15,"p4":0.1,"p5":0.05,"p6":0.01,"p7":-0.03,"p8":-0.07,"p9":-0.1,"p10":-0.13,"r0":-0.77,"r1":-0.69,"r2":-0.62,"r3":-0.56,"r4":-0.51,"r5":-0.46,"r6":-0.42,"r7":-0.38,"r8":-0.34,"r9":-0.31,"r10":-0.28},
{"x":0.7778,"y":-0.72,"g":-0.69,"p0":0.355,"p1":0.24,"p2":0.14,"p3":0.05,"p4":-0.04,"p5":-0.11,"p6":-0.18,"p7":-0.24,"p8":-0.3,"p9":-0.35,"p10":-0.39,"r0":-1.08,"r1":-0.96,"r2":-0.86,"r3":-0.77,"r4":-0.68,"r5":-0.61,"r6":-0.54,"r7":-0.48,"r8":-0.42,"r9":-0.37,"r10":-0.33},
{"x":0.7879,"y":-0.44,"g":-0.64,"p0":0.355,"p1":0.28,"p2":0.21,"p3":0.15,"p4":0.09,"p5":0.04,"p6":0,"p7":-0.04,"p8":-0.08,"p9":-0.11,"p10":-0.14,"r0":-0.8,"r1":-0.72,"r2":-0.65,"r3":-0.59,"r4":-0.53,"r5":-0.48,"r6":-0.44,"r7":-0.4,"r8":-0.36,"r9":-0.33,"r10":-0.3},
{"x":0.798,"y":-0.81,"g":-0.58,"p0":0.355,"p1":0.24,"p2":0.13,"p3":0.04,"p4":-0.05,"p5":-0.13,"p6":-0.2,"p7":-0.26,"p8":-0.31,"p9":-0.36,"p10":-0.41,"r0":-1.17,"r1":-1.05,"r2":-0.94,"r3":-0.85,"r4":-0.76,"r5":-0.68,"r6":-0.61,"r7":-0.55,"r8":-0.5,"r9":-0.45,"r10":-0.4},
{"x":0.8081,"y":-0.46,"g":-0.52,"p0":0.355,"p1":0.28,"p2":0.2,"p3":0.14,"p4":0.08,"p5":0.03,"p6":-0.02,"p7":-0.06,"p8":-0.1,"p9":-0.13,"p10":-0.16,"r0":-0.82,"r1":-0.74,"r2":-0.66,"r3":-0.6,"r4":-0.54,"r5":-0.49,"r6":-0.44,"r7":-0.4,"r8":-0.36,"r9":-0.33,"r10":-0.3},
{"x":0.8182,"y":0.24,"g":-0.45,"p0":0.355,"p1":0.34,"p2":0.33,"p3":0.32,"p4":0.31,"p5":0.3,"p6":0.29,"p7":0.28,"p8":0.27,"p9":0.27,"p10":0.26,"r0":-0.12,"r1":-0.1,"r2":-0.09,"r3":-0.08,"r4":-0.07,"r5":-0.06,"r6":-0.05,"r7":-0.04,"r8":-0.03,"r9":-0.03,"r10":-0.02},
{"x":0.8283,"y":0.01,"g":-0.38,"p0":0.355,"p1":0.32,"p2":0.28,"p3":0.25,"p4":0.23,"p5":0.2,"p6":0.18,"p7":0.16,"p8":0.14,"p9":0.13,"p10":0.11,"r0":-0.35,"r1":-0.31,"r2":-0.27,"r3":-0.24,"r4":-0.22,"r5":-0.19,"r6":-0.17,"r7":-0.15,"r8":-0.13,"r9":-0.12,"r10":-0.1},
{"x":0.8384,"y":-0.07,"g":-0.29,"p0":0.355,"p1":0.31,"p2":0.27,"p3":0.23,"p4":0.2,"p5":0.17,"p6":0.14,"p7":0.12,"p8":0.1,"p9":0.08,"p10":0.06,"r0":-0.43,"r1":-0.38,"r2":-0.34,"r3":-0.3,"r4":-0.27,"r5":-0.24,"r6":-0.21,"r7":-0.19,"r8":-0.17,"r9":-0.15,"r10":-0.13},
{"x":0.8485,"y":-0.22,"g":-0.2,"p0":0.355,"p1":0.3,"p2":0.25,"p3":0.21,"p4":0.17,"p5":0.14,"p6":0.11,"p7":0.08,"p8":0.05,"p9":0.03,"p10":0.01,"r0":-0.58,"r1":-0.52,"r2":-0.47,"r3":-0.43,"r4":-0.39,"r5":-0.36,"r6":-0.33,"r7":-0.3,"r8":-0.27,"r9":-0.25,"r10":-0.23},
{"x":0.8586,"y":0.04,"g":-0.1,"p0":0.355,"p1":0.32,"p2":0.29,"p3":0.26,"p4":0.24,"p5":0.21,"p6":0.19,"p7":0.18,"p8":0.16,"p9":0.14,"p10":0.13,"r0":-0.32,"r1":-0.28,"r2":-0.25,"r3":-0.22,"r4":-0.2,"r5":-0.17,"r6":-0.15,"r7":-0.14,"r8":-0.12,"r9":-0.1,"r10":-0.09},
{"x":0.8687,"y":0.2,"g":0.05,"p0":0.355,"p1":0.34,"p2":0.33,"p3":0.32,"p4":0.31,"p5":0.3,"p6":0.29,"p7":0.28,"p8":0.27,"p9":0.27,"p10":0.26,"r0":-0.16,"r1":-0.14,"r2":-0.13,"r3":-0.12,"r4":-0.11,"r5":-0.1,"r6":-0.09,"r7":-0.08,"r8":-0.07,"r9":-0.07,"r10":-0.06},
{"x":0.8788,"y":0.38,"g":0.2,"p0":0.355,"p1":0.35,"p2":0.35,"p3":0.35,"p4":0.35,"p5":0.35,"p6":0.35,"p7":0.35,"p8":0.35,"p9":0.35,"p10":0.35,"r0":0.03,"r1":0.03,"r2":0.03,"r3":0.03,"r4":0.03,"r5":0.03,"r6":0.03,"r7":0.03,"r8":0.03,"r9":0.03,"r10":0.03},
{"x":0.8889,"y":0.02,"g":0.35,"p0":0.355,"p1":0.32,"p2":0.29,"p3":0.26,"p4":0.23,"p5":0.21,"p6":0.19,"p7":0.17,"p8":0.15,"p9":0.13,"p10":0.12,"r0":-0.34,"r1":-0.3,"r2":-0.27,"r3":-0.24,"r4":-0.21,"r5":-0.19,"r6":-0.17,"r7":-0.15,"r8":-0.13,"r9":-0.11,"r10":-0.1},
{"x":0.899,"y":0.67,"g":0.5,"p0":0.355,"p1":0.39,"p2":0.42,"p3":0.44,"p4":0.47,"p5":0.49,"p6":0.51,"p7":0.53,"p8":0.54,"p9":0.56,"p10":0.57,"r0":0.32,"r1":0.28,"r2":0.25,"r3":0.23,"r4":0.2,"r5":0.18,"r6":0.16,"r7":0.14,"r8":0.13,"r9":0.11,"r10":0.1},
{"x":0.9091,"y":0.26,"g":0.65,"p0":0.355,"p1":0.35,"p2":0.35,"p3":0.34,"p4":0.34,"p5":0.33,"p6":0.33,"p7":0.33,"p8":0.32,"p9":0.32,"p10":0.32,"r0":-0.1,"r1":-0.09,"r2":-0.09,"r3":-0.08,"r4":-0.08,"r5":-0.07,"r6":-0.07,"r7":-0.07,"r8":-0.06,"r9":-0.06,"r10":-0.06},
{"x":0.9192,"y":1.2,"g":0.8,"p0":0.355,"p1":0.45,"p2":0.53,"p3":0.6,"p4":0.66,"p5":0.72,"p6":0.78,"p7":0.82,"p8":0.87,"p9":0.91,"p10":0.94,"r0":0.85,"r1":0.75,"r2":0.67,"r3":0.6,"r4":0.54,"r5":0.48,"r6":0.42,"r7":0.38,"r8":0.33,"r9":0.29,"r10":0.26},
{"x":0.9293,"y":0.6,"g":0.945,"p0":0.355,"p1":0.38,"p2":0.39,"p3":0.41,"p4":0.43,"p5":0.44,"p6":0.45,"p7":0.46,"p8":0.47,"p9":0.48,"p10":0.49,"r0":0.25,"r1":0.22,"r2":0.21,"r3":0.19,"r4":0.17,"r5":0.16,"r6":0.15,"r7":0.14,"r8":0.13,"r9":0.12,"r10":0.11},
{"x":0.9394,"y":1.04,"g":1.07,"p0":0.355,"p1":0.42,"p2":0.48,"p3":0.54,"p4":0.59,"p5":0.63,"p6":0.67,"p7":0.7,"p8":0.74,"p9":0.76,"p10":0.79,"r0":0.69,"r1":0.62,"r2":0.56,"r3":0.5,"r4":0.45,"r5":0.41,"r6":0.37,"r7":0.34,"r8":0.3,"r9":0.28,"r10":0.25},
{"x":0.9495,"y":1.39,"g":1.19,"p0":0.355,"p1":0.45,"p2":0.54,"p3":0.62,"p4":0.69,"p5":0.75,"p6":0.81,"p7":0.86,"p8":0.91,"p9":0.95,"p10":0.99,"r0":1.04,"r1":0.94,"r2":0.85,"r3":0.77,"r4":0.7,"r5":0.64,"r6":0.58,"r7":0.53,"r8":0.48,"r9":0.44,"r10":0.4},
{"x":0.9596,"y":1.15,"g":1.31,"p0":0.355,"p1":0.43,"p2":0.5,"p3":0.56,"p4":0.61,"p5":0.66,"p6":0.7,"p7":0.74,"p8":0.78,"p9":0.81,"p10":0.84,"r0":0.8,"r1":0.72,"r2":0.65,"r3":0.59,"r4":0.54,"r5":0.49,"r6":0.45,"r7":0.41,"r8":0.37,"r9":0.34,"r10":0.31},
{"x":0.9697,"y":1.46,"g":1.43,"p0":0.355,"p1":0.45,"p2":0.54,"p3":0.62,"p4":0.69,"p5":0.75,"p6":0.8,"p7":0.86,"p8":0.9,"p9":0.94,"p10":0.98,"r0":1.11,"r1":1.01,"r2":0.92,"r3":0.84,"r4":0.77,"r5":0.71,"r6":0.66,"r7":0.6,"r8":0.56,"r9":0.52,"r10":0.48},
{"x":0.9798,"y":1.92,"g":1.55,"p0":0.355,"p1":0.5,"p2":0.62,"p3":0.74,"p4":0.84,"p5":0.93,"p6":1.01,"p7":1.09,"p8":1.16,"p9":1.22,"p10":1.27,"r0":1.57,"r1":1.42,"r2":1.3,"r3":1.18,"r4":1.08,"r5":0.99,"r6":0.91,"r7":0.83,"r8":0.76,"r9":0.7,"r10":0.65},
{"x":0.9899,"y":1.79,"g":1.67,"p0":0.355,"p1":0.48,"p2":0.6,"p3":0.7,"p4":0.8,"p5":0.88,"p6":0.96,"p7":1.02,"p8":1.08,"p9":1.14,"p10":1.19,"r0":1.44,"r1":1.31,"r2":1.19,"r3":1.09,"r4":0.99,"r5":0.91,"r6":0.83,"r7":0.77,"r8":0.71,"r9":0.65,"r10":0.6},
{"x":1,"y":1.86,"g":1.78,"p0":0.355,"p1":0.49,"p2":0.61,"p3":0.72,"p4":0.82,"p5":0.91,"p6":0.98,"p7":1.06,"p8":1.12,"p9":1.18,"p10":1.23,"r0":1.51,"r1":1.37,"r2":1.25,"r3":1.14,"r4":1.04,"r5":0.95,"r6":0.88,"r7":0.8,"r8":0.74,"r9":0.68,"r10":0.63}
]},
"hconcat":[
{
"width":514,"height":270,
"title":{"text":"Gradient Boosting Approximation with Cubic B-splines"},
"data":{"name":"d"},
"encoding":{
"x":{"field":"x","type":"quantitative","scale":{"domain":[-0.05,1.05],"nice":false,"zero":false},"axis":{"values":[0,0.2,0.4,0.6,0.8,1],"format":".1f","title":"X"}}
},
"layer":[
{"mark":{"type":"circle","size":80,"color":"#FFA500","opacity":1},
 "encoding":{"y":{"field":"y","type":"quantitative","scale":{"domain":[-1.78,2.56],"nice":false,"zero":false},"axis":{"values":[-1.5,-1,-0.5,0,0.5,1,1.5,2,2.5],"format":".1f","title":"y","titlePadding":10}}}},
{"transform":[{"fold":["p0","p1","p2","p3","p4","p5","p6","p7","p8","p9"],"as":["it","v"]}],
 "mark":{"type":"line","color":"#0000FF","strokeWidth":2,"strokeDash":[7.5,3.3]},
 "encoding":{"y":{"field":"v","type":"quantitative","scale":{"domain":[-1.78,2.56],"nice":false,"zero":false},"axis":{"values":[-1.5,-1,-0.5,0,0.5,1,1.5,2,2.5],"format":".1f","title":"y","titlePadding":10}},
  "detail":{"field":"it","type":"nominal"},
  "opacity":{"field":"it","type":"nominal","scale":{"type":"ordinal","domain":["p0","p1","p2","p3","p4","p5","p6","p7","p8","p9"],"range":[0.1,0.2,0.3,0.4,0.5,0.6,0.7,0.8,0.9,1.0]},"legend":null}}},
{"mark":{"type":"line","color":"#0000FF","strokeWidth":2.8},
 "encoding":{"y":{"field":"p10","type":"quantitative","scale":{"domain":[-1.78,2.56],"nice":false,"zero":false},"axis":{"values":[-1.5,-1,-0.5,0,0.5,1,1.5,2,2.5],"format":".1f","title":"y","titlePadding":10}}}},
{"mark":{"type":"line","color":"#008000","strokeWidth":2.1,"interpolate":"monotone"},
 "encoding":{"y":{"field":"g","type":"quantitative","scale":{"domain":[-1.78,2.56],"nice":false,"zero":false},"axis":{"values":[-1.5,-1,-0.5,0,0.5,1,1.5,2,2.5],"format":".1f","title":"y","titlePadding":10}}}}
]
},
{
"width":514,"height":270,
"title":{"text":"Change in Residuals"},
"data":{"name":"d"},
"encoding":{
"x":{"field":"x","type":"quantitative","scale":{"domain":[-0.05,1.05],"nice":false,"zero":false},"axis":{"values":[0,0.2,0.4,0.6,0.8,1],"format":".1f","title":"X"}}
},
"layer":[
{"transform":[{"fold":["r0","r1","r2","r3","r4","r5","r6","r7","r8","r9"],"as":["it","v"]}],
 "mark":{"type":"point","shape":"M-1,-1L1,1M-1,1L1,-1","filled":false,"strokeWidth":2,"size":90},
 "encoding":{"y":{"field":"v","type":"quantitative","scale":{"domain":[-2.133,2.217],"nice":false,"zero":false},"axis":{"values":[-2,-1.5,-1,-0.5,0,0.5,1,1.5,2],"format":".1f","title":"Residuals","titlePadding":8}},
  "color":{"field":"it","type":"nominal","scale":{"type":"ordinal","domain":["r0","r1","r2","r3","r4","r5","r6","r7","r8","r9"],"range":["#3a3aff","#6a5cf0","#9670e0","#bb80d0","#d87fb8","#ec6f9c","#f6587c","#fb3a58","#fe1c30","#ff0000"]},"legend":null},
  "opacity":{"field":"it","type":"nominal","scale":{"type":"ordinal","domain":["r0","r1","r2","r3","r4","r5","r6","r7","r8","r9"],"range":[0.1,0.16,0.22,0.3,0.38,0.47,0.57,0.68,0.82,1.0]},"legend":null},
  "order":{"field":"it","type":"ordinal"}}},
{"mark":{"type":"line","color":"#0000FF","strokeWidth":2.3},
 "encoding":{"y":{"field":"r10","type":"quantitative","scale":{"domain":[-2.133,2.217],"nice":false,"zero":false},"axis":{"values":[-2,-1.5,-1,-0.5,0,0.5,1,1.5,2],"format":".1f","title":"Residuals","titlePadding":8}}}}
]
}
]
}
